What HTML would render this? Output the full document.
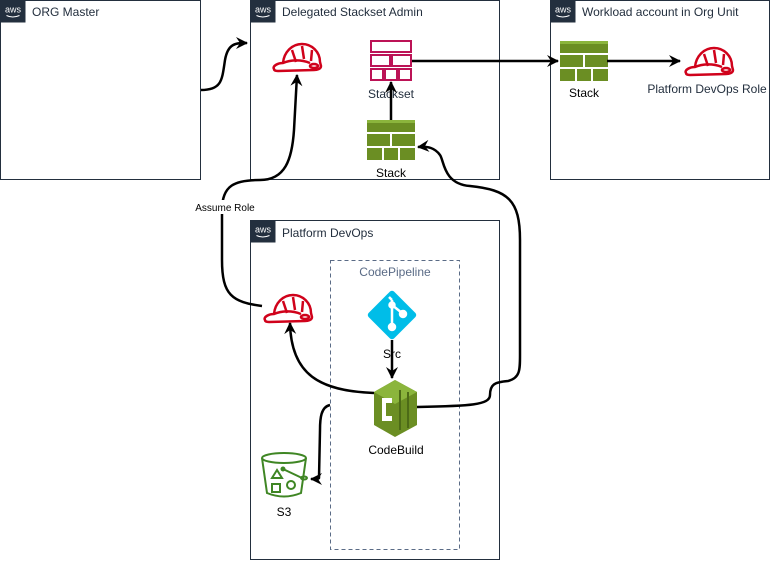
<!DOCTYPE html>
<html><head><meta charset="utf-8"><style>
html,body{margin:0;padding:0;background:#fff;}
svg{display:block;font-family:"Liberation Sans",Helvetica,Arial,sans-serif;}
</style></head><body>
<svg width="771" height="561" viewBox="0 0 771 561" xmlns="http://www.w3.org/2000/svg">
<defs>
<marker id="ar" markerWidth="14" markerHeight="14" refX="11" refY="6" orient="auto" markerUnits="userSpaceOnUse">
<path d="M0,0 L12,6 L0,12 L4,6 Z" fill="#000"/>
</marker>
<g id="hat" fill="none" stroke="#d0021b" stroke-width="2.5" stroke-linejoin="round">
<path d="M4,27 C2,24 8,21 13,21 C14,10 22,2 32,2 C42,2 50,10 50,20 L51,24 C51,27 47,28 44,28 L8,29 C5,29 4,28 4,27 Z"/>
<path d="M13,21 C20,18 30,17 40,21"/>
<path d="M22,8 L26,20 M32,4 L34,17 M42,8 L41,19"/>
<ellipse cx="44" cy="24" rx="4" ry="2"/>
</g>
<g id="stack">
<rect x="0" y="0" width="48" height="12" fill="#6b8e23"/>
<rect x="0" y="14" width="23" height="12" fill="#6b8e23"/>
<rect x="25" y="14" width="23" height="12" fill="#6b8e23"/>
<rect x="0" y="28" width="15" height="12" fill="#6b8e23"/>
<rect x="17" y="28" width="14" height="12" fill="#6b8e23"/>
<rect x="33" y="28" width="15" height="12" fill="#6b8e23"/>
<rect x="0" y="0" width="48" height="3" fill="#8bb53c"/>
</g>
<g id="aws">
<rect width="25" height="22" fill="#232f3e"/>
<text x="12.5" y="12" font-size="9" fill="#fff" text-anchor="middle">aws</text>
<path d="M6,15 Q12,18 19,15" stroke="#fff" stroke-width="1" fill="none"/>
</g>
</defs>

<rect x="0.5" y="0.5" width="200" height="179" fill="#fff" stroke="#232f3e"/>
<use href="#aws" x="0.5" y="0.5"/>
<text x="32" y="16" font-size="12" fill="#232f3e">ORG Master</text>

<rect x="250.5" y="0.5" width="249" height="179" fill="#fff" stroke="#232f3e"/>
<use href="#aws" x="250.5" y="0.5"/>
<text x="282" y="16" font-size="12" fill="#232f3e">Delegated Stackset Admin</text>

<rect x="550.5" y="0.5" width="219" height="179" fill="#fff" stroke="#232f3e"/>
<use href="#aws" x="550.5" y="0.5"/>
<text x="582" y="16" font-size="12" fill="#232f3e">Workload account in Org Unit</text>

<rect x="250.5" y="220.5" width="249" height="339" fill="#fff" stroke="#232f3e"/>
<use href="#aws" x="250.5" y="220.5"/>
<text x="282" y="237" font-size="12" fill="#232f3e">Platform DevOps</text>

<rect x="330.5" y="260.5" width="129" height="289" fill="none" stroke="#5a6b86" stroke-dasharray="4,3"/>
<text x="395" y="276" font-size="12" fill="#5a6b86" text-anchor="middle">CodePipeline</text>

<use href="#hat" x="270" y="42"/>
<use href="#hat" x="682" y="46"/>
<use href="#hat" x="261" y="293"/>

<g fill="none" stroke="#bc1356" stroke-width="2">
<rect x="371" y="41" width="40" height="11"/>
<rect x="371" y="55" width="19" height="11"/>
<rect x="392" y="55" width="19" height="11"/>
<rect x="371" y="69" width="12" height="11"/>
<rect x="385" y="69" width="12" height="11"/>
<rect x="399" y="69" width="12" height="11"/>
</g>
<text x="391" y="98" font-size="12" fill="#232f3e" text-anchor="middle">Stackset</text>

<use href="#stack" x="367" y="120"/>
<text x="391" y="177" font-size="12" fill="#000" text-anchor="middle">Stack</text>
<use href="#stack" x="560" y="41"/>
<text x="584" y="97" font-size="12" fill="#000" text-anchor="middle">Stack</text>
<text x="707" y="93" font-size="12" fill="#232f3e" text-anchor="middle">Platform DevOps Role</text>

<rect x="374" y="297" width="36" height="36" rx="3" fill="#00bde8" transform="rotate(45 392 315)"/>
<g stroke="#fff" stroke-width="2.5" fill="#fff">
<line x1="389" y1="297" x2="392" y2="300"/>
<line x1="392" y1="300" x2="392" y2="325"/>
<line x1="392" y1="305" x2="402" y2="313"/>
<circle cx="392" cy="305" r="2.5"/><circle cx="392" cy="327" r="3"/><circle cx="403" cy="314" r="3"/>
</g>
<text x="392" y="358" font-size="12" fill="#000" text-anchor="middle">Src</text>

<path d="M395,380 L417,392 L417,425 L395,437 L374,425 L374,392 Z" fill="#6b8e23"/>
<path d="M395,380 L417,392 L395,404 L374,392 Z" fill="#8bb53c"/>
<path d="M382,398 L392,398 L392,403 L386,403 L386,416 L392,416 L392,421 L382,421 Z" fill="#fff"/>
<line x1="400" y1="390" x2="400" y2="430" stroke="#4d6b17" stroke-width="2"/>
<line x1="408" y1="392" x2="408" y2="428" stroke="#4d6b17" stroke-width="2"/>
<text x="396" y="454" font-size="12" fill="#000" text-anchor="middle">CodeBuild</text>

<g fill="none" stroke="#3f8624" stroke-width="2">
<ellipse cx="284" cy="458" rx="22" ry="5"/>
<path d="M262,458 L267,493 Q284,500 301,493 L306,458"/>
<path d="M272,478 L277,470 L282,478 Z"/>
<rect x="272" y="484" width="8" height="8"/>
<circle cx="291" cy="485" r="4"/>
<path d="M283,469 L302,478"/>
<circle cx="283" cy="469" r="1.5" fill="#3f8624"/>
<ellipse cx="304" cy="478" rx="3" ry="1.5"/>
</g>
<text x="284" y="516" font-size="12" fill="#000" text-anchor="middle">S3</text>

<g fill="none" stroke="#000" stroke-width="2.5">
<path d="M201,90 C222,90 222,80 225,60 C228,43 236,43 247,43" marker-end="url(#ar)"/>
<path d="M412,61 L558,61" marker-end="url(#ar)"/>
<path d="M607,61 L680,61" marker-end="url(#ar)"/>
<path d="M391,120 L391,82" marker-end="url(#ar)"/>
<path d="M392,340 L392,378" marker-end="url(#ar)"/>
<path d="M374,393 C320,391 291,375 290,323" marker-end="url(#ar)"/>
<path d="M417,407 C470,406 490,405 490,395 C490,385 494,382 508,381 C520,378 520,370 520,355 L520,240 C520,200 508,190 470,186 C443,184 444,160 440,155 C435,148 428,146 418,147" marker-end="url(#ar)"/>
<path d="M262,306 C232,302 222,295 222,260 L222,210 C222,185 235,180 260,180 C285,180 292,160 294,130 L297,75" marker-end="url(#ar)"/>
<path d="M330,405 C321,407 320,418 320,430 L319,478 C319,479 316,479 311,479" marker-end="url(#ar)"/>
</g>
<rect x="190" y="200" width="70" height="14" fill="#fff"/>
<text x="225" y="211" font-size="10" fill="#000" text-anchor="middle">Assume Role</text>
</svg>
</body></html>
